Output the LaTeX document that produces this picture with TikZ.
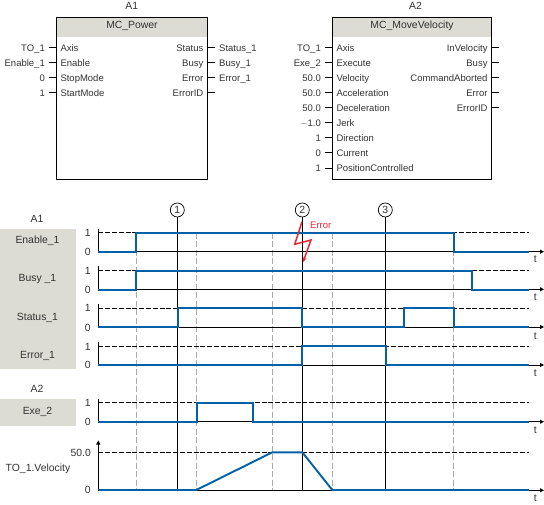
\documentclass[tikz,border=0pt]{standalone}
\usepackage{fontspec}
\setmainfont{Liberation Sans}
\usetikzlibrary{arrows.meta}
\definecolor{bandgray}{RGB}{220,220,212}
\definecolor{sigblue}{RGB}{0,96,168}
\definecolor{guidegray}{RGB}{165,172,178}
\definecolor{errred}{RGB}{228,40,52}
\definecolor{txtgray}{gray}{0.2}
\tikzset{
	txt/.style={font=\fontsize{9.5}{11}\selectfont, text=txtgray, inner sep=0pt, text height=7pt, text depth=0pt},
	bigtxt/.style={txt, font=\fontsize{10.4}{12}\selectfont},
	pinl/.style={txt, anchor=east},
	pinr/.style={txt, anchor=west},
	fb/.style={draw=black, line width=0.9pt},
	pinline/.style={black, line width=0.8pt},
	sig/.style={sigblue, line width=1.9pt, line join=miter},
	hiline/.style={black, line width=0.7pt, dash pattern=on 5pt off 1.8pt},
	loline/.style={black, line width=0.8pt, -{Triangle[length=4pt,width=4pt]}},
	guide/.style={guidegray, line width=0.8pt, dash pattern=on 6pt off 2.5pt},
	evline/.style={black, line width=0.8pt},
	stepno/.style={bigtxt, draw=black, fill=white, circle, minimum size=14pt, line width=0.7pt},
}
\begin{document}
\begin{tikzpicture}[x=1pt, y=-1pt]
	\useasboundingbox (0,0) rectangle (544,505);

	% Function block A1
	\node[bigtxt] (titleA) at (131.7,6.5) {A1};
	\fill[bandgray] (56.7,17.7) rectangle (207.3,36.7);
	\node[bigtxt] (nameA) at (132,25.5) {MC\_Power};
	\draw[fb] (56.7,17.7) rectangle (207.3,179.3);
	\foreach \y/\name/\ext in {47.7/Axis/TO\_1, 62.7/Enable/Enable\_1, 77.7/StopMode/0, 92.7/StartMode/1} {
		\node[pinl] (a\y) at (45,\y) {\ext};
		\node[txt, anchor=west] (b\y) at (60.3,\y) {\name};
		\draw[pinline] (49,\y) -- (56.7,\y);
	}
	\foreach \y/\name/\ext in {47.7/Status/Status\_1, 62.7/Busy/Busy\_1, 77.7/Error/Error\_1, 92.7/ErrorID/} {
		\node[txt, anchor=east] (c\y) at (203.5,\y) {\name};
		\node[pinr] (d\y) at (219,\y) {\ext};
		\draw[pinline] (207.3,\y) -- (215,\y);
	}

	% Function block A2
	\node[bigtxt] (titleB) at (415.5,6.5) {A2};
	\fill[bandgray] (332.7,17.7) rectangle (491.7,36.7);
	\node[bigtxt] (nameB) at (412,25.5) {MC\_MoveVelocity};
	\draw[fb] (332.7,17.7) rectangle (491.7,179.3);
	\foreach \y/\name/\ext in {47.7/Axis/TO\_1, 62.7/Execute/Exe\_2, 77.7/Velocity/50.0, 92.7/Acceleration/50.0, 107.7/Deceleration/50.0, 122.7/Jerk/$-$1.0, 137.7/Direction/1, 152.7/Current/0, 168/PositionControlled/1} {
		\node[pinl] (e\y) at (321,\y) {\ext};
		\node[txt, anchor=west] (f\y) at (336.3,\y) {\name};
		\draw[pinline] (325.3,\y) -- (332.7,\y);
	}
	\foreach \y/\name in {47.7/InVelocity, 62.7/Busy, 77.7/CommandAborted, 92.7/Error, 107.7/ErrorID} {
		\node[txt, anchor=east] (g\y) at (487.7,\y) {\name};
		\draw[pinline] (491.7,\y) -- (498.7,\y);
	}

	% Signal names
	\fill[bandgray] (0,229) rectangle (76,369);
	\fill[bandgray] (0,399) rectangle (76,425.7);
	\node[bigtxt] (grpA) at (37,219) {A1};
	\node[bigtxt] (grpB) at (37,388.5) {A2};
	\node[bigtxt] (nEnable) at (37.5,240) {Enable\_1};
	\node[bigtxt] (nBusy) at (37.5,278.5) {Busy \_1};
	\node[bigtxt] (nStatus) at (37.5,316.5) {Status\_1};
	\node[bigtxt] (nError) at (37.5,355) {Error\_1};
	\node[bigtxt] (nExe) at (37.5,410.5) {Exe\_2};
	\node[bigtxt] (nVelo) at (38,467.5) {TO\_1.Velocity};

	% Guides
	\foreach \x in {136.3,196.3,272.3,332.3,453.7}
		\draw[guide] (\x,233) -- (\x,490);

	% Axes
	\foreach \hiy/\loy/\topy/\tpos in {232.7/251.7/229/259.5, 270.7/289.3/266/297.5, 308/327/304/335.7, 346/365/342/373.5, 402.7/421.7/399/430} {
		\draw[hiline] (98.3,\hiy) -- (529.3,\hiy);
		\draw[loline] (98.3,\loy) -- (544,\loy);
		\draw[black, line width=0.8pt] (98.3,\topy) -- (98.3,\loy);
		\node[bigtxt] at (87.7,\hiy+0.5) {1};
		\node[bigtxt] at (87.7,\loy+0.5) {0};
		\node[bigtxt] at (535.3,\tpos) {t};
	}
	\draw[hiline] (98.3,452.3) -- (529.3,452.3);
	\draw[loline] (98.3,490.3) -- (544,490.3);
	\draw[black, line width=0.8pt, -{Triangle[length=4pt,width=4pt]}] (98.3,490.3) -- (98.3,440.5);
	\node[bigtxt, anchor=east] (vmax) at (91,452.5) {50.0};
	\node[bigtxt] (vmin) at (87.7,490) {0};
	\node[bigtxt] (vt) at (535.3,497.7) {t};

	% Event markers
	\foreach \x/\n in {177.3/1,302.3/2,385.3/3} {
		\draw[evline] (\x,210) -- (\x,490.3);
		\node[stepno] (ev\n) at (\x,210) {\n};
	}

	% Signals
	\draw[sig] (98.3,251.7) -- (136.3,251.7) -- (136.3,232.7) -- (454,232.7) -- (454,251.7) -- (529,251.7);
	\draw[sig] (98.3,289.7) -- (136.3,289.7) -- (136.3,270.7) -- (472,270.7) -- (472,289.7) -- (529,289.7);
	\draw[sig] (98.3,327) -- (178,327) -- (178,308) -- (302,308) -- (302,327) -- (404,327) -- (404,308) -- (454,308) -- (454,327) -- (529,327);
	\draw[sig] (98.3,365) -- (302,365) -- (302,346) -- (386,346) -- (386,365) -- (529,365);
	\draw[sig] (98.3,421.7) -- (197,421.7) -- (197,402.7) -- (253.3,402.7) -- (253.3,421.7) -- (529,421.7);
	\draw[sig] (98.3,490) -- (196.3,490) -- (272.3,452.3) -- (302.3,452.3) -- (332.3,490) -- (529,490);

	% Error flash
	\draw[errred, line width=1.5pt, -{Stealth[length=5pt]}] (302,221.7) -- (294.7,244.3) -- (311,240) -- (303,262.3);
	\node[txt, text=errred, anchor=west] (errtxt) at (310,225) {Error};
\end{tikzpicture}
\end{document}
